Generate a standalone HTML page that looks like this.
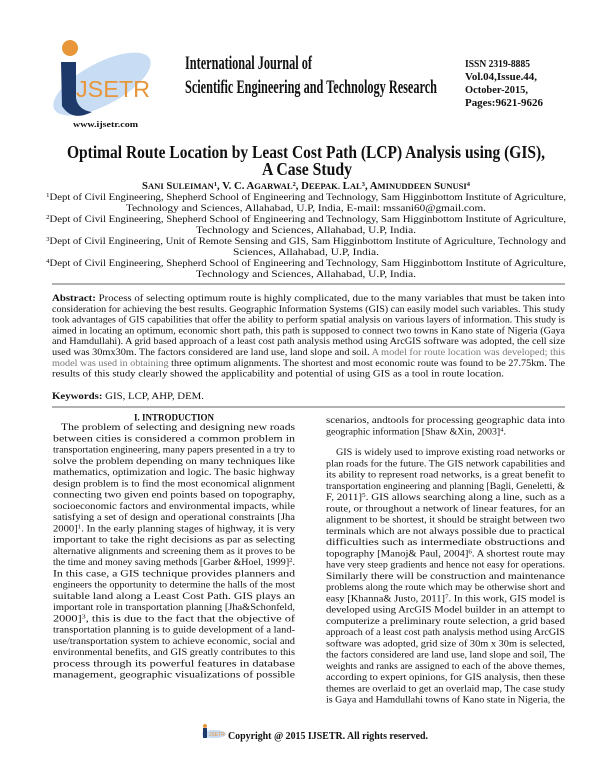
<!DOCTYPE html>
<html><head><meta charset="utf-8"><style>
html,body{margin:0;padding:0;background:#fff;}
svg{display:block;}
text{font-family:"Liberation Serif",serif;fill:#111;}
.b{font-size:9px;}
.a{font-size:9px;}
.s{font-size:6px;}
</style></head><body>
<svg width="600" height="776" viewBox="0 0 600 776" xmlns="http://www.w3.org/2000/svg">
<!-- logo -->
<ellipse cx="102" cy="84" rx="54" ry="21" fill="#c8dcf4" transform="rotate(-28 102 84)"/>
<circle cx="70" cy="48" r="8" fill="#e8963a"/>
<path d="M61 62 L76 62 L76 98 Q78 110 92 112 Q72 122 62 106 Z" fill="#1d3a6b"/>
<text x="76" y="97" style="font-family:'Liberation Sans',sans-serif;font-size:23px;fill:#e8963a" textLength="74" lengthAdjust="spacingAndGlyphs">JSETR</text>
<text x="73" y="127" style="font-size:8px;font-weight:bold" textLength="65" lengthAdjust="spacingAndGlyphs">www.ijsetr.com</text>
<!-- journal title -->
<text x="185" y="69" style="font-size:19px;font-weight:bold" textLength="127" lengthAdjust="spacingAndGlyphs">International Journal of</text>
<text x="185" y="93" style="font-size:19px;font-weight:bold" textLength="252" lengthAdjust="spacingAndGlyphs">Scientific Engineering and Technology Research</text>
<g style="font-size:10px;font-weight:bold">
<text x="465" y="67" textLength="65" lengthAdjust="spacingAndGlyphs">ISSN 2319-8885</text>
<text x="465" y="80" textLength="72" lengthAdjust="spacingAndGlyphs">Vol.04,Issue.44,</text>
<text x="465" y="93" textLength="63" lengthAdjust="spacingAndGlyphs">October-2015,</text>
<text x="465" y="106" textLength="78" lengthAdjust="spacingAndGlyphs">Pages:9621-9626</text>
</g>
<!-- title -->
<text x="67" y="158" style="font-size:17.5px;font-weight:bold" textLength="478" lengthAdjust="spacingAndGlyphs">Optimal Route Location by Least Cost Path (LCP) Analysis using (GIS),</text>
<text x="262" y="175" style="font-size:17.5px;font-weight:bold" textLength="90" lengthAdjust="spacingAndGlyphs">A Case Study</text>
<text x="142" y="189" style="font-size:10px;font-weight:bold" textLength="328" lengthAdjust="spacingAndGlyphs">S<tspan font-size="8">ANI</tspan> S<tspan font-size="8">ULEIMAN</tspan><tspan class="s" baseline-shift="super">1</tspan>, V. C. A<tspan font-size="8">GARWAL</tspan><tspan class="s" baseline-shift="super">2</tspan>, D<tspan font-size="8">EEPAK.</tspan> L<tspan font-size="8">AL</tspan><tspan class="s" baseline-shift="super">3</tspan>, A<tspan font-size="8">MINUDDEEN</tspan> S<tspan font-size="8">UNUSI</tspan><tspan class="s" baseline-shift="super">4</tspan></text>
<g class="a" text-anchor="middle">
<text x="306" y="200" textLength="520" lengthAdjust="spacingAndGlyphs"><tspan class="s" baseline-shift="super">1</tspan>Dept of Civil Engineering, Shepherd School of Engineering and Technology, Sam Higginbottom Institute of Agriculture,</text>
<text x="306" y="211" textLength="360" lengthAdjust="spacingAndGlyphs">Technology and Sciences, Allahabad, U.P, India, E-mail: mssani60@gmail.com.</text>
<text x="306" y="222" textLength="520" lengthAdjust="spacingAndGlyphs"><tspan class="s" baseline-shift="super">2</tspan>Dept of Civil Engineering, Shepherd School of Engineering and Technology, Sam Higginbottom Institute of Agriculture,</text>
<text x="306" y="233" textLength="220" lengthAdjust="spacingAndGlyphs">Technology and Sciences, Allahabad, U.P, India.</text>
<text x="306" y="244" textLength="520" lengthAdjust="spacingAndGlyphs"><tspan class="s" baseline-shift="super">3</tspan>Dept of Civil Engineering, Unit of Remote Sensing and GIS, Sam Higginbottom Institute of Agriculture, Technology and</text>
<text x="306" y="255" textLength="146" lengthAdjust="spacingAndGlyphs">Sciences, Allahabad, U.P, India.</text>
<text x="306" y="266" textLength="520" lengthAdjust="spacingAndGlyphs"><tspan class="s" baseline-shift="super">4</tspan>Dept of Civil Engineering, Shepherd School of Engineering and Technology, Sam Higginbottom Institute of Agriculture,</text>
<text x="306" y="277" textLength="220" lengthAdjust="spacingAndGlyphs">Technology and Sciences, Allahabad, U.P, India.</text>
</g>
<line x1="52" y1="284" x2="565" y2="284" stroke="#666" stroke-width="1"/>
<!-- abstract -->
<g class="a">
<text x="52" y="301" textLength="513" lengthAdjust="spacingAndGlyphs"><tspan font-weight="bold">Abstract:</tspan> Process of selecting optimum route is highly complicated, due to the many variables that must be taken into</text>
<text x="52" y="311.8" textLength="513" lengthAdjust="spacingAndGlyphs">consideration for achieving the best results. Geographic Information Systems (GIS) can easily model such variables. This study</text>
<text x="52" y="322.6" textLength="513" lengthAdjust="spacingAndGlyphs">took advantages of GIS capabilities that offer the ability to perform spatial analysis on various layers of information. This study is</text>
<text x="52" y="333.4" textLength="513" lengthAdjust="spacingAndGlyphs">aimed in locating an optimum, economic short path, this path is supposed to connect two towns in Kano state of Nigeria (Gaya</text>
<text x="52" y="344.2" textLength="513" lengthAdjust="spacingAndGlyphs">and Hamdullahi). A grid based approach of a least cost path analysis method using ArcGIS software was adopted, the cell size</text>
<text x="52" y="355" textLength="513" lengthAdjust="spacingAndGlyphs">used was 30mx30m. The factors considered are land use, land slope and soil. <tspan fill="#777">A model for route location was developed; this</tspan></text>
<text x="52" y="365.8" textLength="513" lengthAdjust="spacingAndGlyphs"><tspan fill="#777">model was used in obtaining</tspan> three optimum alignments. The shortest and most economic route was found to be 27.75km. The</text>
<text x="52" y="376.6" textLength="452" lengthAdjust="spacingAndGlyphs">results of this study clearly showed the applicability and potential of using GIS as a tool in route location.</text>
<text x="52" y="399" textLength="152" lengthAdjust="spacingAndGlyphs"><tspan font-weight="bold">Keywords:</tspan> GIS, LCP, AHP, DEM.</text>
</g>
<line x1="52" y1="407" x2="565" y2="407" stroke="#666" stroke-width="1"/>
<text x="174" y="420.5" text-anchor="middle" style="font-size:9.5px;font-weight:bold" textLength="80" lengthAdjust="spacingAndGlyphs">I. INTRODUCTION</text>
<!-- left column -->
<g class="b">
<text x="61" y="430" textLength="234" lengthAdjust="spacingAndGlyphs">The problem of selecting and designing new roads</text>
<text x="53" y="441.25" textLength="242" lengthAdjust="spacingAndGlyphs">between cities is considered a common problem in</text>
<text x="53" y="452.5" textLength="242" lengthAdjust="spacingAndGlyphs">transportation engineering, many papers presented in a try to</text>
<text x="53" y="463.75" textLength="242" lengthAdjust="spacingAndGlyphs">solve the problem depending on many techniques like</text>
<text x="53" y="475" textLength="242" lengthAdjust="spacingAndGlyphs">mathematics, optimization and logic. The basic highway</text>
<text x="53" y="486.25" textLength="242" lengthAdjust="spacingAndGlyphs">design problem is to find the most economical alignment</text>
<text x="53" y="497.5" textLength="242" lengthAdjust="spacingAndGlyphs">connecting two given end points based on topography,</text>
<text x="53" y="508.75" textLength="242" lengthAdjust="spacingAndGlyphs">socioeconomic factors and environmental impacts, while</text>
<text x="53" y="520" textLength="242" lengthAdjust="spacingAndGlyphs">satisfying a set of design and operational constraints [Jha</text>
<text x="53" y="531.25" textLength="242" lengthAdjust="spacingAndGlyphs">2000]<tspan class="s" baseline-shift="super">1</tspan>. In the early planning stages of highway, it is very</text>
<text x="53" y="542.5" textLength="242" lengthAdjust="spacingAndGlyphs">important to take the right decisions as par as selecting</text>
<text x="53" y="553.75" textLength="242" lengthAdjust="spacingAndGlyphs">alternative alignments and screening them as it proves to be</text>
<text x="53" y="565" textLength="242" lengthAdjust="spacingAndGlyphs">the time and money saving methods [Garber &amp;Hoel, 1999]<tspan class="s" baseline-shift="super">2</tspan>.</text>
<text x="53" y="576.25" textLength="242" lengthAdjust="spacingAndGlyphs">In this case, a GIS technique provides planners and</text>
<text x="53" y="587.5" textLength="242" lengthAdjust="spacingAndGlyphs">engineers the opportunity to determine the halls of the most</text>
<text x="53" y="598.75" textLength="242" lengthAdjust="spacingAndGlyphs">suitable land along a Least Cost Path. GIS plays an</text>
<text x="53" y="610" textLength="242" lengthAdjust="spacingAndGlyphs">important role in transportation planning [Jha&amp;Schonfeld,</text>
<text x="53" y="621.25" textLength="242" lengthAdjust="spacingAndGlyphs">2000]<tspan class="s" baseline-shift="super">3</tspan>, this is due to the fact that the objective of</text>
<text x="53" y="632.5" textLength="242" lengthAdjust="spacingAndGlyphs">transportation planning is to guide development of a land-</text>
<text x="53" y="643.75" textLength="242" lengthAdjust="spacingAndGlyphs">use/transportation system to achieve economic, social and</text>
<text x="53" y="655" textLength="242" lengthAdjust="spacingAndGlyphs">environmental benefits, and GIS greatly contributes to this</text>
<text x="53" y="666.25" textLength="242" lengthAdjust="spacingAndGlyphs">process through its powerful features in database</text>
<text x="53" y="677.5" textLength="242" lengthAdjust="spacingAndGlyphs">management, geographic visualizations of possible</text>
</g>
<!-- right column -->
<g class="b">
<text x="326" y="423" textLength="239" lengthAdjust="spacingAndGlyphs">scenarios, andtools for processing geographic data into</text>
<text x="326" y="434.25" textLength="180" lengthAdjust="spacingAndGlyphs">geographic information [Shaw &amp;Xin, 2003]<tspan class="s" baseline-shift="super">4</tspan>.</text>
<text x="336" y="455" textLength="229" lengthAdjust="spacingAndGlyphs">GIS is widely used to improve existing road networks or</text>
<text x="326" y="466.25" textLength="239" lengthAdjust="spacingAndGlyphs">plan roads for the future. The GIS network capabilities and</text>
<text x="326" y="477.5" textLength="239" lengthAdjust="spacingAndGlyphs">its ability to represent road networks, is a great benefit to</text>
<text x="326" y="488.75" textLength="239" lengthAdjust="spacingAndGlyphs">transportation engineering and planning [Bagli, Geneletti, &amp;</text>
<text x="326" y="500" textLength="239" lengthAdjust="spacingAndGlyphs">F, 2011]<tspan class="s" baseline-shift="super">5</tspan>. GIS allows searching along a line, such as a</text>
<text x="326" y="511.25" textLength="239" lengthAdjust="spacingAndGlyphs">route, or throughout a network of linear features, for an</text>
<text x="326" y="522.5" textLength="239" lengthAdjust="spacingAndGlyphs">alignment to be shortest, it should be straight between two</text>
<text x="326" y="533.75" textLength="239" lengthAdjust="spacingAndGlyphs">terminals which are not always possible due to practical</text>
<text x="326" y="545" textLength="239" lengthAdjust="spacingAndGlyphs">difficulties such as intermediate obstructions and</text>
<text x="326" y="556.25" textLength="239" lengthAdjust="spacingAndGlyphs">topography [Manoj&amp; Paul, 2004]<tspan class="s" baseline-shift="super">6</tspan>. A shortest route may</text>
<text x="326" y="567.5" textLength="239" lengthAdjust="spacingAndGlyphs">have very steep gradients and hence not easy for operations.</text>
<text x="326" y="578.75" textLength="239" lengthAdjust="spacingAndGlyphs">Similarly there will be construction and maintenance</text>
<text x="326" y="590" textLength="239" lengthAdjust="spacingAndGlyphs">problems along the route which may be otherwise short and</text>
<text x="326" y="601.25" textLength="239" lengthAdjust="spacingAndGlyphs">easy [Khanna&amp; Justo, 2011]<tspan class="s" baseline-shift="super">7</tspan>. In this work, GIS model is</text>
<text x="326" y="612.5" textLength="239" lengthAdjust="spacingAndGlyphs">developed using ArcGIS Model builder in an attempt to</text>
<text x="326" y="623.75" textLength="239" lengthAdjust="spacingAndGlyphs">computerize a preliminary route selection, a grid based</text>
<text x="326" y="635" textLength="239" lengthAdjust="spacingAndGlyphs">approach of a least cost path analysis method using ArcGIS</text>
<text x="326" y="646.25" textLength="239" lengthAdjust="spacingAndGlyphs">software was adopted, grid size of 30m x 30m is selected,</text>
<text x="326" y="657.5" textLength="239" lengthAdjust="spacingAndGlyphs">the factors considered are land use, land slope and soil, The</text>
<text x="326" y="668.75" textLength="239" lengthAdjust="spacingAndGlyphs">weights and ranks are assigned to each of the above themes,</text>
<text x="326" y="680" textLength="239" lengthAdjust="spacingAndGlyphs">according to expert opinions, for GIS analysis, then these</text>
<text x="326" y="691.25" textLength="239" lengthAdjust="spacingAndGlyphs">themes are overlaid to get an overlaid map, The case study</text>
<text x="326" y="702.5" textLength="239" lengthAdjust="spacingAndGlyphs">is Gaya and Hamdullahi towns of Kano state in Nigeria, the</text>
</g>
<!-- footer -->
<ellipse cx="214" cy="734" rx="12" ry="4" fill="#c8dcf4"/>
<rect x="203" y="728" width="4" height="10" fill="#1d3a6b"/>
<circle cx="205" cy="726" r="2" fill="#e8963a"/>
<text x="209" y="736" style="font-family:'Liberation Sans',sans-serif;font-size:5px;fill:#e8963a">JSETR</text>
<text x="228" y="739" style="font-size:10px;font-weight:bold" textLength="200" lengthAdjust="spacingAndGlyphs">Copyright @ 2015 IJSETR. All rights reserved.</text>
</svg>
</body></html>
